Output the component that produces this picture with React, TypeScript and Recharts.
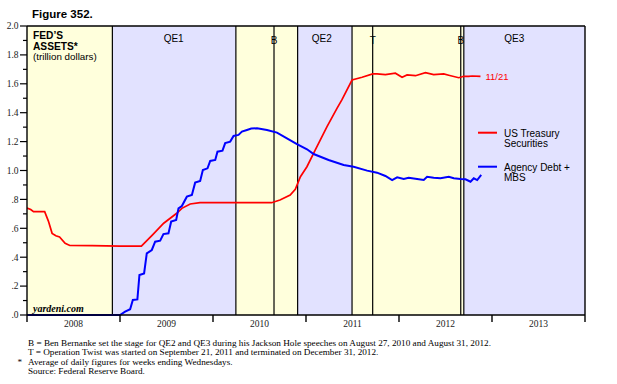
import React from 'react';
import {
  ComposedChart,
  Line,
  XAxis,
  YAxis,
  ReferenceArea,
  ReferenceLine,
  ReferenceDot,
  Legend,
} from 'recharts';

// ---- data (fractional years, trillion dollars) ----
const treasuryDates = [
  2008.0, 2008.04, 2008.07, 2008.19, 2008.23, 2008.27, 2008.31, 2008.35, 2008.41, 2008.46,
  2008.7, 2009.0, 2009.23, 2009.35, 2009.47, 2009.61, 2009.665, 2009.755, 2009.86, 2010.2,
  2010.63, 2010.72, 2010.83, 2010.885, 2010.94, 2011.01, 2011.1, 2011.226, 2011.333, 2011.387,
  2011.495, 2011.603, 2011.717, 2011.764, 2011.854, 2011.961, 2012.033, 2012.087, 2012.177, 2012.284,
  2012.373, 2012.481, 2012.535, 2012.643, 2012.697, 2012.75, 2012.787, 2012.876,
];
const treasuryValues = [
  0.74, 0.73, 0.715, 0.715, 0.65, 0.565, 0.548, 0.54, 0.496, 0.481,
  0.48, 0.476, 0.476, 0.555, 0.635, 0.704, 0.738, 0.768, 0.777, 0.777,
  0.777, 0.796, 0.83, 0.87, 0.957, 1.026, 1.142, 1.303, 1.43, 1.49,
  1.626, 1.645, 1.668, 1.668, 1.663, 1.673, 1.645, 1.661, 1.656, 1.677,
  1.663, 1.668, 1.659, 1.642, 1.652, 1.652, 1.654, 1.652,
];

const mbsDates = [
  2008.0, 2009.0, 2009.055, 2009.109, 2009.138, 2009.187, 2009.209, 2009.259, 2009.288, 2009.342,
  2009.378, 2009.432, 2009.467, 2009.521, 2009.55, 2009.604, 2009.629, 2009.665, 2009.719, 2009.773,
  2009.808, 2009.862, 2009.891, 2009.941, 2009.97, 2010.024, 2010.048, 2010.102, 2010.131, 2010.185,
  2010.221, 2010.274, 2010.311, 2010.365, 2010.411, 2010.473, 2010.52, 2010.58, 2010.688, 2010.795,
  2010.903, 2011.011, 2011.082, 2011.243, 2011.405, 2011.512, 2011.657, 2011.764, 2011.854, 2011.926,
  2011.98, 2012.051, 2012.104, 2012.195, 2012.266, 2012.302, 2012.373, 2012.446, 2012.535, 2012.589,
  2012.661, 2012.715, 2012.769, 2012.804, 2012.841, 2012.884,
];
const mbsValues = [
  0.0, 0.0, 0.023, 0.04, 0.104, 0.108, 0.277, 0.288, 0.427, 0.45,
  0.507, 0.514, 0.56, 0.565, 0.646, 0.657, 0.738, 0.754, 0.819, 0.83,
  0.916, 0.927, 1.003, 1.015, 1.066, 1.073, 1.13, 1.137, 1.19, 1.2,
  1.239, 1.246, 1.269, 1.28, 1.29, 1.292, 1.287, 1.28, 1.262, 1.223,
  1.183, 1.147, 1.114, 1.073, 1.038, 1.026, 0.999, 0.985, 0.962, 0.934,
  0.953, 0.941, 0.95, 0.941, 0.934, 0.957, 0.95, 0.946, 0.957, 0.946,
  0.941, 0.939, 0.922, 0.946, 0.934, 0.969,
];

// shaded periods
const periodStarts = [2008.0, 2008.918, 2010.246, 2010.91, 2011.495, 2012.697];
const periodEnds = [2008.918, 2010.246, 2010.91, 2011.495, 2012.697, 2014.0];
const periodKinds = ['none', 'qe', 'none', 'qe', 'none', 'qe'];

// vertical event lines
const eventLines = [2008.918, 2010.246, 2010.656, 2010.91, 2011.495, 2011.717, 2012.664, 2012.697];

// text labels at top
const topLabelX = [2009.577, 2010.656, 2011.17, 2011.717, 2012.664, 2013.24];
const topLabelText = ['QE1', 'B', 'QE2', 'T', 'B', 'QE3'];

const yearTicks = [2008, 2008.5, 2009, 2009.5, 2010, 2010.5, 2011, 2011.5, 2012, 2012.5, 2013, 2013.5, 2014];
const yearLabels = ['2008', '2009', '2010', '2011', '2012', '2013'];
const valueTicks = [0, 0.1, 0.2, 0.3, 0.4, 0.5, 0.6, 0.7, 0.8, 0.9, 1.0, 1.1, 1.2, 1.3, 1.4, 1.5, 1.6, 1.7, 1.8, 1.9, 2.0];

const seriesNames = ['US Treasury|Securities', 'Agency Debt +|MBS'];
const seriesColors = ['#ff0000', '#0000ff'];

const footnotes = [
  'B = Ben Bernanke set the stage for QE2 and QE3 during his Jackson Hole speeches on August 27, 2010 and August 31, 2012.',
  'T = Operation Twist was started on September 21, 2011 and terminated on December 31, 2012.',
  'Average of daily figures for weeks ending Wednesdays.',
  'Source: Federal Reserve Board.',
];

const treasuryData = treasuryDates.map((d, i) => ({ x: d, v: treasuryValues[i] }));
const mbsData = mbsDates.map((d, i) => ({ x: d, v: mbsValues[i] }));

const SANS = '"Liberation Sans", Arial, sans-serif';
const SERIF = '"Liberation Serif", "Times New Roman", serif';

const fmtValue = (v: number) => {
  const r = Math.round(v * 10) / 10;
  if (r < 1) return '.' + Math.round(r * 10);
  return r.toFixed(1);
};

const XTick = (props: any) => {
  const { x, y, payload } = props;
  const v = payload.value;
  if (Math.abs(v - Math.round(v)) < 1e-6) {
    return <line x1={x} y1={y} x2={x} y2={y + 7} stroke="#000" strokeWidth={1.4} />;
  }
  return (
    <text x={x} y={y + 11.7} textAnchor="middle" fontFamily={SERIF} fontSize={9.5} fill="#222">
      {yearLabels[Math.floor(v) - 2008]}
    </text>
  );
};

const makeYTick = (side: 'left' | 'right') => (props: any) => {
  const { x, y, payload } = props;
  const v = payload.value;
  const major = Math.round(v * 10) % 2 === 0;
  const len = major ? 7 : 4;
  const dir = side === 'left' ? -1 : 1;
  return (
    <g>
      <line x1={x} y1={y} x2={x + dir * len} y2={y} stroke="#000" strokeWidth={1.2} />
      {major && (
        <text
          x={side === 'left' ? x - 8.5 : x + 9}
          y={y + 3.3}
          textAnchor={side === 'left' ? 'end' : 'start'}
          fontFamily={SERIF}
          fontSize={9.5}
          fill="#222"
        >
          {fmtValue(v)}
        </text>
      )}
    </g>
  );
};

const LegendContent = () => (
  <svg width={140} height={70}>
    {seriesNames.map((name, i) => {
      const lines = name.split('|');
      const base = i === 0 ? 17.3 : 51;
      const ly = i === 0 ? 12.7 : 46.7;
      return (
        <g key={name}>
          <line x1={8} y1={ly} x2={27} y2={ly} stroke={seriesColors[i]} strokeWidth={2} />
          {lines.map((t, j) => (
            <text key={t} x={34} y={base + j * 9.5} fontFamily={SANS} fontSize={10} fill="#000">
              {t}
            </text>
          ))}
        </g>
      );
    })}
  </svg>
);

const topLabel = (text: string, small: boolean) => (props: any) => {
  const vb = props.viewBox || {};
  return (
    <text
      x={vb.x}
      y={(vb.y || 0) + (small ? 18 : 16.3)}
      textAnchor="middle"
      fontFamily={SANS}
      fontSize={10}
      fill="#000"
    >
      {text}
    </text>
  );
};

export default function App() {
  const lastT = treasuryData[treasuryData.length - 1];
  return (
    <div style={{ position: 'absolute', left: 0, top: 0, width: 617, height: 384, background: '#fff' }}>
      <ComposedChart width={617} height={384} margin={{ top: 26, right: 0, bottom: 0, left: 0 }}>
        <XAxis
          dataKey="x"
          type="number"
          domain={[2008, 2014]}
          ticks={yearTicks}
          interval={0}
          allowDataOverflow
          tickLine={false}
          tickSize={0}
          tickMargin={0}
          height={69}
          axisLine={{ stroke: '#000', strokeWidth: 1.4 }}
          tick={<XTick />}
        />
        <YAxis
          yAxisId="l"
          orientation="left"
          domain={[0, 2]}
          ticks={valueTicks}
          interval={0}
          width={27}
          tickLine={false}
          tickSize={0}
          tickMargin={0}
          axisLine={{ stroke: '#000', strokeWidth: 1.4 }}
          tick={makeYTick('left')}
        />
        <YAxis
          yAxisId="r"
          orientation="right"
          domain={[0, 2]}
          ticks={valueTicks}
          interval={0}
          width={32}
          tickLine={false}
          tickSize={0}
          tickMargin={0}
          axisLine={{ stroke: '#000', strokeWidth: 1.4 }}
          tick={makeYTick('right')}
        />
        {periodStarts.map((s, i) => (
          <ReferenceArea
            key={'a' + i}
            yAxisId="l"
            x1={s}
            x2={periodEnds[i]}
            y1={0}
            y2={2}
            fill={periodKinds[i] === 'qe' ? '#e2e2ff' : '#ffffdc'}
            fillOpacity={1}
            stroke="none"
          />
        ))}
        {eventLines.map((x, i) => (
          <ReferenceLine key={'e' + i} yAxisId="l" x={x} stroke="#000" strokeWidth={1.2} />
        ))}
        <ReferenceLine yAxisId="l" y={2} stroke="#000" strokeWidth={1.4} />
        {topLabelX.map((x, i) => (
          <ReferenceLine
            key={'t' + i}
            yAxisId="l"
            x={x}
            stroke="none"
            label={topLabel(topLabelText[i], topLabelText[i].length === 1)}
          />
        ))}
        <Line
          yAxisId="l"
          data={treasuryData}
          dataKey="v"
          type="linear"
          stroke={seriesColors[0]}
          strokeWidth={1.7}
          dot={false}
          isAnimationActive={false}
          name="US Treasury Securities"
        />
        <Line
          yAxisId="l"
          data={mbsData}
          dataKey="v"
          type="linear"
          stroke={seriesColors[1]}
          strokeWidth={2}
          dot={false}
          isAnimationActive={false}
          name="Agency Debt + MBS"
        />
        <ReferenceDot
          yAxisId="l"
          x={lastT.x}
          y={lastT.v}
          r={0}
          fill="none"
          stroke="none"
          label={{ value: '11/21', position: 'right', offset: 5, fill: '#ff0000', fontSize: 9.5, fontFamily: SANS }}
        />
        <Legend
          layout="vertical"
          align="center"
          verticalAlign="middle"
          wrapperStyle={{ left: 470, top: 120, width: 140, height: 70 }}
          content={<LegendContent />}
        />
      </ComposedChart>
      <svg
        width={617}
        height={384}
        style={{ position: 'absolute', left: 0, top: 0, pointerEvents: 'none' }}
      >
        <text x={32} y={18.3} fontFamily={SANS} fontWeight="bold" fontSize={11.5} fill="#000">
          Figure 352.
        </text>
        <text x={33} y={38.8} fontFamily={SANS} fontWeight="bold" fontSize={10.2} fill="#000">
          FED’S
        </text>
        <text x={33} y={50} fontFamily={SANS} fontWeight="bold" fontSize={10.2} fill="#000">
          ASSETS*
        </text>
        <text x={33} y={60} fontFamily={SANS} fontSize={9.8} fill="#000">
          (trillion dollars)
        </text>
        <text x={33} y={311.7} fontFamily={SERIF} fontWeight="bold" fontStyle="italic" fontSize={10} fill="#000">
          yardeni.com
        </text>
        <g fontFamily={SERIF} fontSize={9.2} fill="#000">
          <text x={28} y={345.8}>{footnotes[0]}</text>
          <text x={28} y={355}>{footnotes[1]}</text>
          <text x={17.5} y={364.8}>*</text>
          <text x={28} y={364.8}>{footnotes[2]}</text>
          <text x={28} y={374.2}>{footnotes[3]}</text>
        </g>
      </svg>
    </div>
  );
}
